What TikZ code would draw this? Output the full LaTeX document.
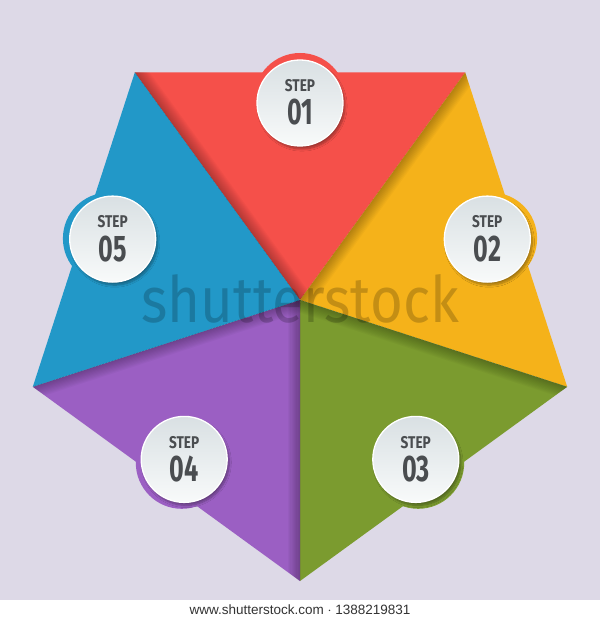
\documentclass[tikz,border=0pt]{standalone}
\usepackage{fontspec}
\usetikzlibrary{calc,shadows.blur}
\setmainfont{Liberation Sans}
\newfontfamily\stepfont{Fira Sans}[FakeStretch=0.8]
\newfontfamily\numfont{Fira Sans}[FakeStretch=0.68]
\newfontfamily\wmfont{Fira Sans}
\definecolor{bg}{HTML}{DDD9E7}
\definecolor{cred}{HTML}{F5504A}
\definecolor{cyellow}{HTML}{F5B21A}
\definecolor{cgreen}{HTML}{7B9B2F}
\definecolor{cpurple}{HTML}{9B5FC3}
\definecolor{cblue}{HTML}{2298C8}
\definecolor{txt}{HTML}{4A4D50}
\definecolor{disktop}{HTML}{D9E0E3}
\definecolor{diskbot}{HTML}{F8FAFA}
\tikzset{
  disk/.style={circle, minimum size=86pt, inner sep=0pt, top color=disktop, bottom color=diskbot,
    draw=white, line width=1.3pt,
    blur shadow={shadow xshift=2pt, shadow yshift=-3pt, shadow blur steps=8, shadow opacity=35}},
  steplabel/.style={text=txt, font=\stepfont\bfseries\fontsize{17}{17}\selectfont, inner sep=0pt},
  numlabel/.style={text=txt, font=\numfont\bfseries\fontsize{37}{37}\selectfont, inner sep=0pt},
}
\newcommand\edgeshadow[3]{%
  \begin{scope}
    \clip #1;
    \foreach \d in {1,...,10} {
      \pgfmathsetmacro\dd{\d*1.2}
      \fill[black, opacity=0.027] ($(#2)!\dd pt!90:(#3)$) -- ($(#3)!\dd pt!-90:(#2)$)
        -- ($(#3)!\dd pt!90:(#2)$) -- ($(#2)!\dd pt!-90:(#3)$) -- cycle;
    }
  \end{scope}}
\newcommand\stepbadge[7]{% name, x, y, dx, dy, color, number
  \fill[#6] ($(#2,#3)+(#4,#5)$) circle (46pt);
  \node[disk] (#1) at (#2,#3) {};
  \node[steplabel] (#1s) at ($(#1)+(0,-17)$) {STEP};
  \node[numlabel] (#1n) at ($(#1)+(0,9.5)$) {#7};
}
\begin{document}
\begin{tikzpicture}[x=1pt,y=-1pt]
\useasboundingbox (0,0) rectangle (600,620);
\fill[bg] (0,0) rectangle (600,600);
\fill[white] (0,600) rectangle (600,620);
\coordinate (C) at (300,300);
\coordinate (TL) at (134.8,72.5);
\coordinate (TR) at (465.2,72.5);
\coordinate (R) at (567.2,386.8);
\coordinate (B) at (300,581);
\coordinate (L) at (32.8,386.8);
% triangles
\fill[cred] (C) -- (TL) -- (TR) -- cycle;
\fill[cyellow] (C) -- (TR) -- (R) -- cycle;
\fill[cgreen] (C) -- (R) -- (B) -- cycle;
\fill[cpurple] (C) -- (B) -- (L) -- cycle;
\fill[cblue] (C) -- (L) -- (TL) -- cycle;
% shadows
\edgeshadow{(C) -- (TL) -- (TR) -- cycle}{C}{TL}
\edgeshadow{(C) -- (TR) -- (R) -- cycle}{C}{TR}
\edgeshadow{(C) -- (R) -- (B) -- cycle}{C}{R}
\edgeshadow{(C) -- (B) -- (L) -- cycle}{C}{B}
\edgeshadow{(C) -- (B) -- (L) -- cycle}{C}{L}
% watermark
\node[anchor=base, inner sep=0pt, text=black, text opacity=0.2,
      font=\wmfont\fontsize{64}{64}\selectfont, xscale=0.88] (wm) at (300,322) {shutterstock};
% badges
\stepbadge{s1}{300}{103}{0}{-4}{cred}{01}
\stepbadge{s2}{487.3}{239.1}{3.8}{-0.6}{cyellow}{02}
\stepbadge{s3}{415.8}{459.4}{2.4}{3.4}{cgreen}{03}
\stepbadge{s4}{184.2}{459.4}{-2.4}{3.4}{cpurple}{04}
\stepbadge{s5}{112.7}{239.1}{-3.8}{-0.6}{cblue}{05}
% footer
\node[text=black!80, font=\fontsize{13.5}{14}\selectfont, inner sep=0pt] (footer) at (300,610) {www.shutterstock.com $\cdot$ 1388219831};
\end{tikzpicture}
\end{document}
